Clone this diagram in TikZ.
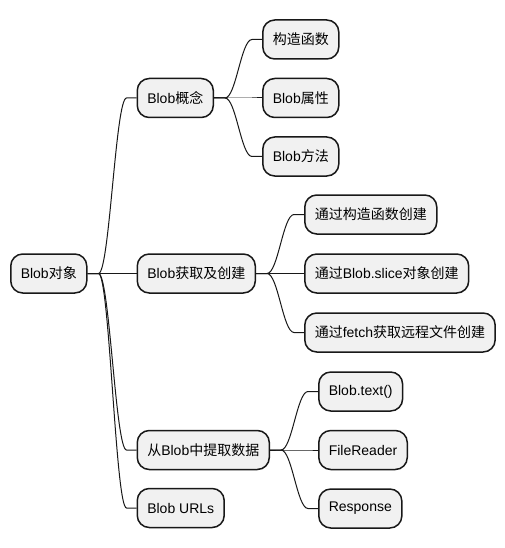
\documentclass[tikz,border=0pt]{standalone}
\usepackage{fontspec}
\setmainfont{Liberation Sans}
\newfontfamily\cjk{Noto Sans CJK SC}
\usetikzlibrary{positioning}
\definecolor{boxfill}{HTML}{F1F1F1}
\definecolor{boxline}{HTML}{181818}

\begin{document}
\begin{tikzpicture}[
		font=\fontsize{14pt}{17pt}\selectfont,
		topic/.style={draw=boxline, fill=boxfill, line width=1.5pt, rounded corners=12pt, minimum height=39pt, inner xsep=10pt},
		link/.style={draw=boxline, line width=1pt}
		]
		\useasboundingbox (0,0) rectangle (505pt,-548pt);
		
		% Root
		\node[topic, anchor=west] (root) at (10pt,-273.5pt) {Blob{\cjk 对象}};
		
		% First level
		\node[topic, right=49pt of root, yshift=175.5pt] (concept) {Blob{\cjk 概念}};
		\node[topic, right=49pt of root] (create) {Blob{\cjk 获取及创建}};
		\node[topic, right=49pt of root, yshift=-176.5pt] (extract) {{\cjk 从}Blob{\cjk 中提取数据}};
		\node[topic, right=49pt of root, yshift=-234.5pt] (urls) {Blob URLs};
		
		% Blob concept
		\node[topic, right=48pt of concept, yshift=58.5pt] (ctor) {{\cjk 构造函数}};
		\node[topic, right=48pt of concept] (props) {Blob{\cjk 属性}};
		\node[topic, right=48pt of concept, yshift=-58.5pt] (methods) {Blob{\cjk 方法}};
		
		% Getting and creating
		\node[topic, right=48pt of create, yshift=59pt] (byctor) {{\cjk 通过构造函数创建}};
		\node[topic, right=48pt of create] (byslice) {{\cjk 通过}Blob.slice{\cjk 对象创建}};
		\node[topic, right=48pt of create, yshift=-59pt] (byfetch) {{\cjk 通过}fetch{\cjk 获取远程文件创建}};
		
		% Extracting data
		\node[topic, right=48pt of extract, yshift=58.5pt] (text) {Blob.text()};
		\node[topic, right=48pt of extract] (reader) {FileReader};
		\node[topic, right=48pt of extract, yshift=-58.5pt] (response) {Response};
		
		% Branches
		\foreach \p/\c in {root/concept, root/create, root/extract, root/urls,
			concept/ctor, concept/props, concept/methods,
			create/byctor, create/byslice, create/byfetch,
			extract/text, extract/reader, extract/response}
		\draw[link] (\p.east) -- ++(11pt,0) .. controls +(11pt,0) and +(-11pt,0) .. ([xshift=-10pt]\c.west) -- (\c.west);
		
	\end{tikzpicture}
\end{document}
